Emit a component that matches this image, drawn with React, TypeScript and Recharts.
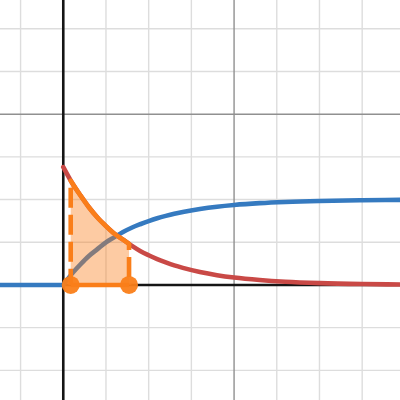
import React from 'react';
import { ComposedChart, XAxis, YAxis, Line, Area, Scatter, ReferenceLine } from 'recharts';

const xDomain = [-0.741, 3.943];
const yDomain = [-1.347, 3.337];
const minorX = [-0.5, 0.5, 1, 1.5, 2.5, 3, 3.5];
const minorY = [-1, -0.5, 0.5, 1, 1.5, 2.5, 3];
const majorX = [2];
const majorY = [2];

const leftX = [-0.75, 0];
const leftY = [0, 0];
const curveX = [0, 0.1, 0.2, 0.3, 0.4, 0.5, 0.6, 0.7, 0.8, 0.9, 1.0, 1.1, 1.2, 1.3, 1.4, 1.6, 1.8, 2.0, 2.3, 2.6, 3.0, 3.5, 3.95];
const blueY = [0, 0.13, 0.24, 0.34, 0.42, 0.5, 0.56, 0.62, 0.67, 0.711, 0.748, 0.781, 0.809, 0.834, 0.855, 0.89, 0.917, 0.937, 0.958, 0.972, 0.984, 0.992, 0.996];
const redY = [1.38, 1.2, 1.05, 0.91, 0.79, 0.69, 0.6, 0.53, 0.46, 0.398, 0.348, 0.303, 0.264, 0.229, 0.2, 0.152, 0.115, 0.087, 0.058, 0.038, 0.022, 0.011, 0.006];
const shadeX = [0.087, 0.2, 0.3, 0.4, 0.5, 0.6, 0.7, 0.77];
const shadeY = [1.22, 1.05, 0.91, 0.79, 0.69, 0.6, 0.53, 0.48];
const boundX = [0.087, 0.77];
const boundTop = [1.22, 0.48];

const BLUE = '#357ac0';
const RED = '#c94946';
const ORANGE = '#fa7e19';

const toPts = (xs: number[], ys: number[]) => xs.map((x, i) => ({ x, y: ys[i] }));
const blueLeft = toPts(leftX, leftY);
const blueRight = toPts(curveX, blueY);
const red = toPts(curveX, redY);
const shade = toPts(shadeX, shadeY);
const dashLeft = [{ x: boundX[0], y: boundTop[0] }, { x: boundX[0], y: 0 }];
const dashRight = [{ x: boundX[1], y: boundTop[1] }, { x: boundX[1], y: 0 }];
const baseSeg = [{ x: boundX[0], y: 0 }, { x: boundX[1], y: 0 }];
const endPts = [{ x: boundX[0], y: 0 }, { x: boundX[1], y: 0 }];

const Dot = (p: any) => <circle cx={p.cx} cy={p.cy} r={9} fill={ORANGE} fillOpacity={0.95} />;

export default function App() {
  return (
    <div style={{ position: 'absolute', left: 0, top: 0, width: 400, height: 400, background: '#fff' }}>
      <ComposedChart width={400} height={400} margin={{ top: 0, right: 0, bottom: 0, left: 0 }}>
        <XAxis dataKey="x" type="number" domain={xDomain} allowDataOverflow hide />
        <YAxis dataKey="y" type="number" domain={yDomain} allowDataOverflow hide />
        {minorX.map((v) => (
          <ReferenceLine key={'mx' + v} x={v} stroke="#dddddd" strokeWidth={1.4} zIndex={-100} />
        ))}
        {minorY.map((v) => (
          <ReferenceLine key={'my' + v} y={v} stroke="#dddddd" strokeWidth={1.4} zIndex={-100} />
        ))}
        {majorX.map((v) => (
          <ReferenceLine key={'Mx' + v} x={v} stroke="#909090" strokeWidth={1.4} zIndex={-90} />
        ))}
        {majorY.map((v) => (
          <ReferenceLine key={'My' + v} y={v} stroke="#909090" strokeWidth={1.4} zIndex={-90} />
        ))}
        <ReferenceLine x={0} stroke="#151515" strokeWidth={2.6} zIndex={-80} />
        <ReferenceLine y={0} stroke="#151515" strokeWidth={2.6} zIndex={-80} />
        <Line data={blueLeft} dataKey="y" type="linear" stroke={BLUE} strokeWidth={4.6} dot={false} activeDot={false} isAnimationActive={false} zIndex={400} />
        <Line data={blueRight} dataKey="y" type="monotone" stroke={BLUE} strokeWidth={4.6} dot={false} activeDot={false} isAnimationActive={false} strokeLinecap="round" zIndex={400} />
        <Line data={red} dataKey="y" type="monotone" stroke={RED} strokeWidth={4.6} dot={false} activeDot={false} isAnimationActive={false} strokeLinecap="round" zIndex={410} />
        <Area data={shade} dataKey="y" type="monotone" stroke="none" fill={ORANGE} fillOpacity={0.4} baseValue={0} isAnimationActive={false} activeDot={false} zIndex={450} />
        <Line data={shade} dataKey="y" type="monotone" stroke={ORANGE} strokeWidth={4.6} dot={false} activeDot={false} isAnimationActive={false} strokeLinecap="round" zIndex={500} />
        <Line data={dashLeft} dataKey="y" type="linear" stroke={ORANGE} strokeWidth={4.6} strokeDasharray="20 7" strokeDashoffset={20} dot={false} activeDot={false} isAnimationActive={false} zIndex={500} />
        <Line data={dashRight} dataKey="y" type="linear" stroke={ORANGE} strokeWidth={4.6} strokeDasharray="20 7" strokeDashoffset={14} dot={false} activeDot={false} isAnimationActive={false} zIndex={500} />
        <Line data={baseSeg} dataKey="y" type="linear" stroke={ORANGE} strokeWidth={4.6} dot={false} activeDot={false} isAnimationActive={false} zIndex={500} />
        <Scatter data={endPts} dataKey="y" shape={Dot} isAnimationActive={false} zIndex={600} />
      </ComposedChart>
    </div>
  );
}
